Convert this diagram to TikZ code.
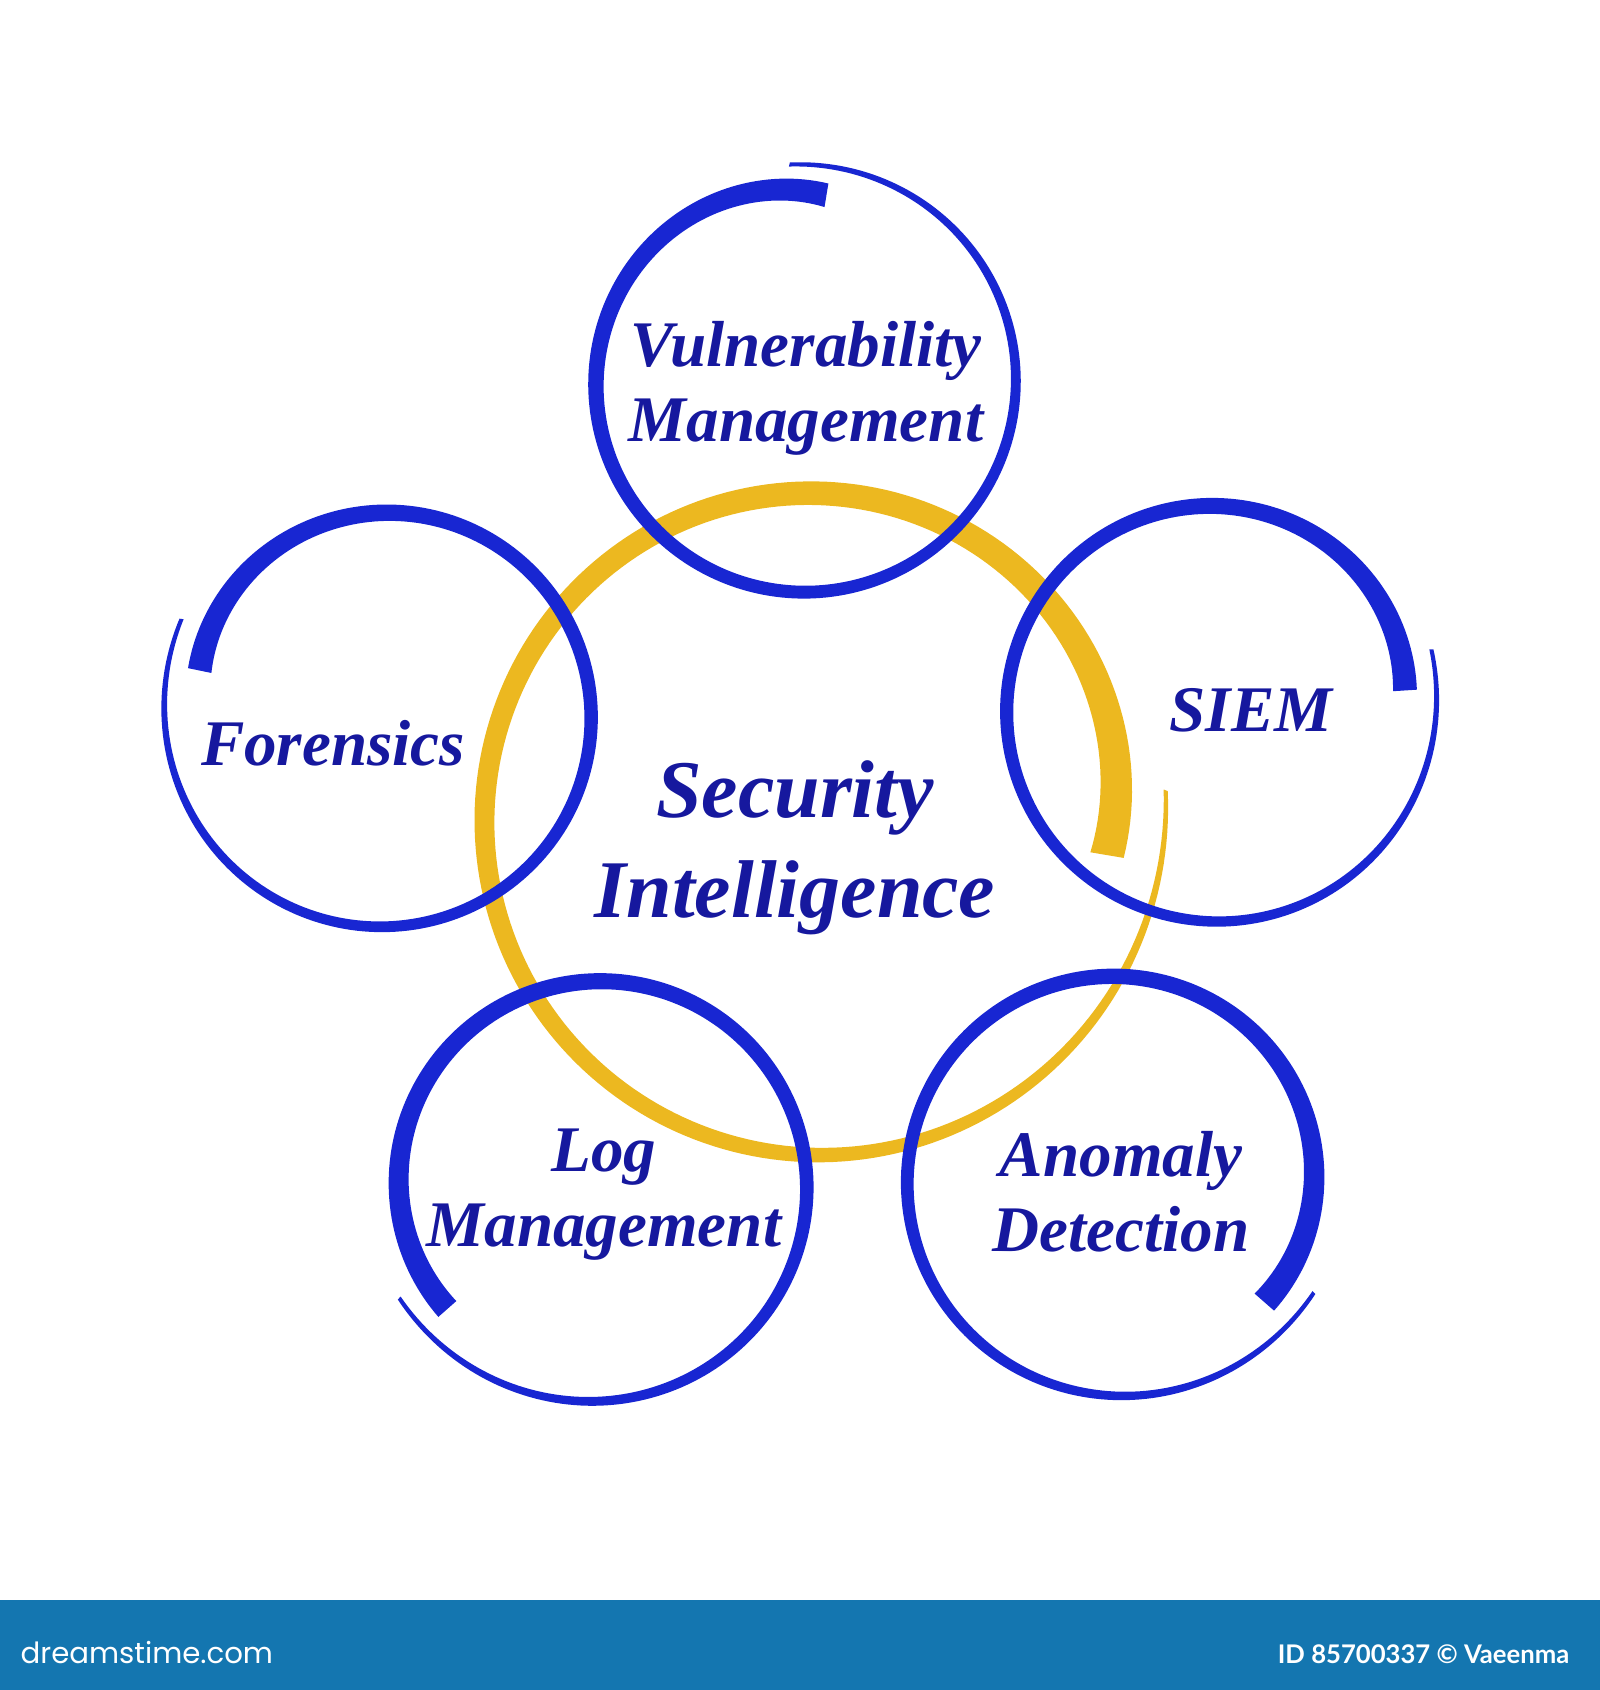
\documentclass[tikz,border=0pt]{standalone}
\usepackage{fontspec}
\setmainfont{Liberation Serif}
\newfontfamily\barfont{Lato}
\newfontfamily\logofont{Poppins}

\definecolor{ringblue}{RGB}{24,38,210}
\definecolor{ringgold}{RGB}{236,184,32}
\definecolor{labelblue}{RGB}{22,24,158}
\definecolor{barblue}{RGB}{20,118,176}

\tikzset{
  declare function={
    ringang(\q)=\ringa+(\ringb-\ringa)*\q;
    ringrad(\q)=\ringrm-(\ringrm-\ringra)*(1-\q)^8+(\ringrb-\ringrm)*\q^5;
    ringwid(\q)=\ringwm+(\ringwa-\ringwm)*(1-\q)^6-(\ringwm-4)*\q^3;
  },
  ringtext/.style={text=labelblue, align=center, inner sep=0pt,
    font=\bfseries\itshape\fontsize{18.5}{21.3}\selectfont},
  centertext/.style={ringtext, font=\bfseries\itshape\fontsize{23.3}{28.5}\selectfont},
  bartext/.style={text=white, inner sep=0pt}
}

\newcommand{\brushring}[9]{%
  \def\ringx{#1}\def\ringy{#2}\def\ringa{#3}\def\ringb{#4}%
  \def\ringra{#5}\def\ringrm{#6}\def\ringrb{#7}\def\ringwa{#8}\def\ringwm{#9}%
  \fill plot[domain=0:1, samples=220, variable=\s]
      ({\ringx+(ringrad(\s)+ringwid(\s)/2)*cos(ringang(\s))},
       {\ringy-(ringrad(\s)+ringwid(\s)/2)*sin(ringang(\s))})
    -- plot[domain=0:1, samples=220, variable=\s]
      ({\ringx+(ringrad(1-\s)-ringwid(1-\s)/2)*cos(ringang(1-\s))},
       {\ringy-(ringrad(1-\s)-ringwid(1-\s)/2)*sin(ringang(1-\s))})
    -- cycle;}

\begin{document}
\begin{tikzpicture}[x=0.01cm, y=-0.01cm]
\useasboundingbox (0,0) rectangle (1600,1690);

\begin{scope}[fill=ringgold]
\brushring{815}{820}{-7}{365}{294}{330}{352}{34}{22}
\end{scope}

\begin{scope}[fill=ringblue]
\brushring{804}{382}{83}{454}{188}{210}{218}{24}{14}
\brushring{384}{717}{166}{-206}{190}{207}{225}{24}{14}
\brushring{1214}{711}{6}{376}{192}{207}{226}{24}{14}
\brushring{600}{1186}{219}{-151}{196}{205}{230}{24}{16}
\brushring{1114}{1181}{-39}{331}{193}{205}{229}{26}{15}
\end{scope}

\node[ringtext] (vuln) at (806,388) {Vulnerability\\Management};
\node[ringtext] (foren) at (333,743) {Forensics};
\node[ringtext] (siem) at (1251,710) {SIEM};
\node[ringtext] (logm) at (604,1195) {Log\\Management};
\node[ringtext] (anom) at (1121,1192) {Anomaly\\Detection};
\node[centertext] (secint) at (795,848) {Security\\Intelligence};

\fill[barblue] (0,1600) rectangle (1600,1690);
\node[bartext, anchor=base west, font=\logofont\fontsize{8.3}{10}\selectfont] (site) at (20,1663) {dreamstime.com};
\node[bartext, anchor=base east, font=\barfont\bfseries\fontsize{7.3}{9}\selectfont] (credit) at (1570,1663) {ID 85700337 © Vaeenma};
\end{tikzpicture}
\end{document}
